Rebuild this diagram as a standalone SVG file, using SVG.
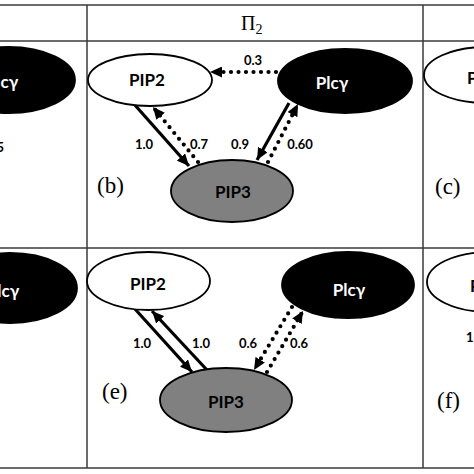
<svg xmlns="http://www.w3.org/2000/svg" width="474" height="474" viewBox="0 0 474 474">
<defs>
<marker id="ah" markerUnits="userSpaceOnUse" markerWidth="13" markerHeight="11" refX="12" refY="5.5" orient="auto">
<path d="M0,0 L12,5.5 L0,11 z" fill="#000"/>
</marker>
</defs>
<style>
.grid{stroke:#3a3a3a;stroke-width:1.5;fill:none}
.white{fill:#fff;stroke:#000;stroke-width:1.8}
.black{fill:#000;stroke:#000;stroke-width:1.8}
.gray{fill:#808080;stroke:#000;stroke-width:1.8}
.nt{font-family:Lato,"Liberation Sans",sans-serif;font-weight:bold;font-size:17px;text-anchor:middle}
.wt{fill:#fff}
.el{font-family:Lato,"Liberation Sans",sans-serif;font-weight:bold;font-size:13px;text-anchor:middle;fill:#000}
.pl{font-family:"Liberation Serif","Times New Roman",serif;font-size:23px;fill:#000}
.solid{stroke:#000;stroke-width:3.2;fill:none;marker-end:url(#ah)}
.dot{stroke:#000;stroke-width:4.2;fill:none;stroke-dasharray:0 7.5;stroke-linecap:round;marker-end:url(#ah)}
</style>
<rect width="474" height="474" fill="#fff"/>
<g id="grid">
<line class="grid" x1="0" y1="5" x2="474" y2="5"/>
<line class="grid" x1="0" y1="41" x2="474" y2="41"/>
<line class="grid" x1="0" y1="248" x2="474" y2="248"/>
<line class="grid" x1="0" y1="468" x2="474" y2="468"/>
<line class="grid" x1="87" y1="5" x2="87" y2="468"/>
<line class="grid" x1="423" y1="5" x2="423" y2="468"/>
</g>
<g id="header">
<text x="241" y="30" font-family="'Liberation Serif','DejaVu Serif',serif" font-size="20">Π<tspan font-size="14" dy="4">2</tspan></text>
</g>
<g id="connectors">
<line class="dot" x1="276" y1="72" x2="210" y2="72"/>
<line class="solid" x1="134" y1="104" x2="189" y2="166"/>
<line class="dot" x1="198" y1="162" x2="153" y2="107"/>
<line class="solid" x1="289" y1="103" x2="257" y2="160"/>
<line class="dot" x1="268" y1="162" x2="298" y2="104"/>
<line class="solid" x1="135" y1="309" x2="192" y2="372"/>
<line class="solid" x1="207" y1="370" x2="152" y2="311"/>
<line class="dot" x1="292" y1="307" x2="254" y2="370"/>
<line class="dot" x1="267" y1="372" x2="303" y2="311"/>
</g>
<g id="left-row1">
<ellipse class="black" cx="8" cy="80" rx="67" ry="33"/>
<text class="nt wt" x="2" y="88">Plcγ</text>
<text class="el" x="4" y="152" style="text-anchor:end">5</text>
</g>
<g id="left-row2">
<ellipse class="black" cx="10" cy="288" rx="67" ry="35"/>
<text class="nt wt" x="3" y="297">Plcγ</text>
</g>
<g id="b-PIP2">
<ellipse class="white" cx="150" cy="80" rx="62" ry="26"/>
<text class="nt" x="147" y="86">PIP2</text>
</g>
<g id="b-Plcg">
<ellipse class="black" cx="345" cy="81" rx="67" ry="32"/>
<text class="nt wt" x="332" y="89">Plcγ</text>
</g>
<g id="b-PIP3">
<ellipse class="gray" cx="232" cy="191" rx="61" ry="31"/>
<text class="nt" x="233" y="198">PIP3</text>
</g>
<g id="b-labels">
<text class="el" x="253" y="65">0.3</text>
<text class="el" x="144" y="149">1.0</text>
<text class="el" x="199" y="149">0.7</text>
<text class="el" x="240" y="149">0.9</text>
<text class="el" x="300" y="149">0.60</text>
<text class="pl" x="97" y="193">(b)</text>
</g>
<g id="c-PIP2">
<ellipse class="white" cx="486" cy="75" rx="62" ry="28"/>
<text class="nt" x="467" y="84" style="text-anchor:start">PIP2</text>
<text class="pl" x="435" y="194">(c)</text>
</g>
<g id="e-PIP2">
<ellipse class="white" cx="148.5" cy="281" rx="61.5" ry="29"/>
<text class="nt" x="148" y="290">PIP2</text>
</g>
<g id="e-Plcg">
<ellipse class="black" cx="348" cy="285" rx="66" ry="33"/>
<text class="nt wt" x="349" y="296">Plcγ</text>
</g>
<g id="e-PIP3">
<ellipse class="gray" cx="226" cy="400" rx="66" ry="32"/>
<text class="nt" x="226" y="408">PIP3</text>
</g>
<g id="e-labels">
<text class="el" x="142" y="348">1.0</text>
<text class="el" x="201" y="348">1.0</text>
<text class="el" x="248" y="348">0.6</text>
<text class="el" x="299" y="348">0.6</text>
<text class="pl" x="102" y="399">(e)</text>
</g>
<g id="f-PIP2">
<ellipse class="white" cx="489" cy="282" rx="62" ry="30"/>
<text class="nt" x="470" y="292" style="text-anchor:start">PIP2</text>
<text class="el" x="466" y="342" style="text-anchor:start">1.0</text>
<text class="pl" x="437" y="408">(f)</text>
</g>
</svg>
